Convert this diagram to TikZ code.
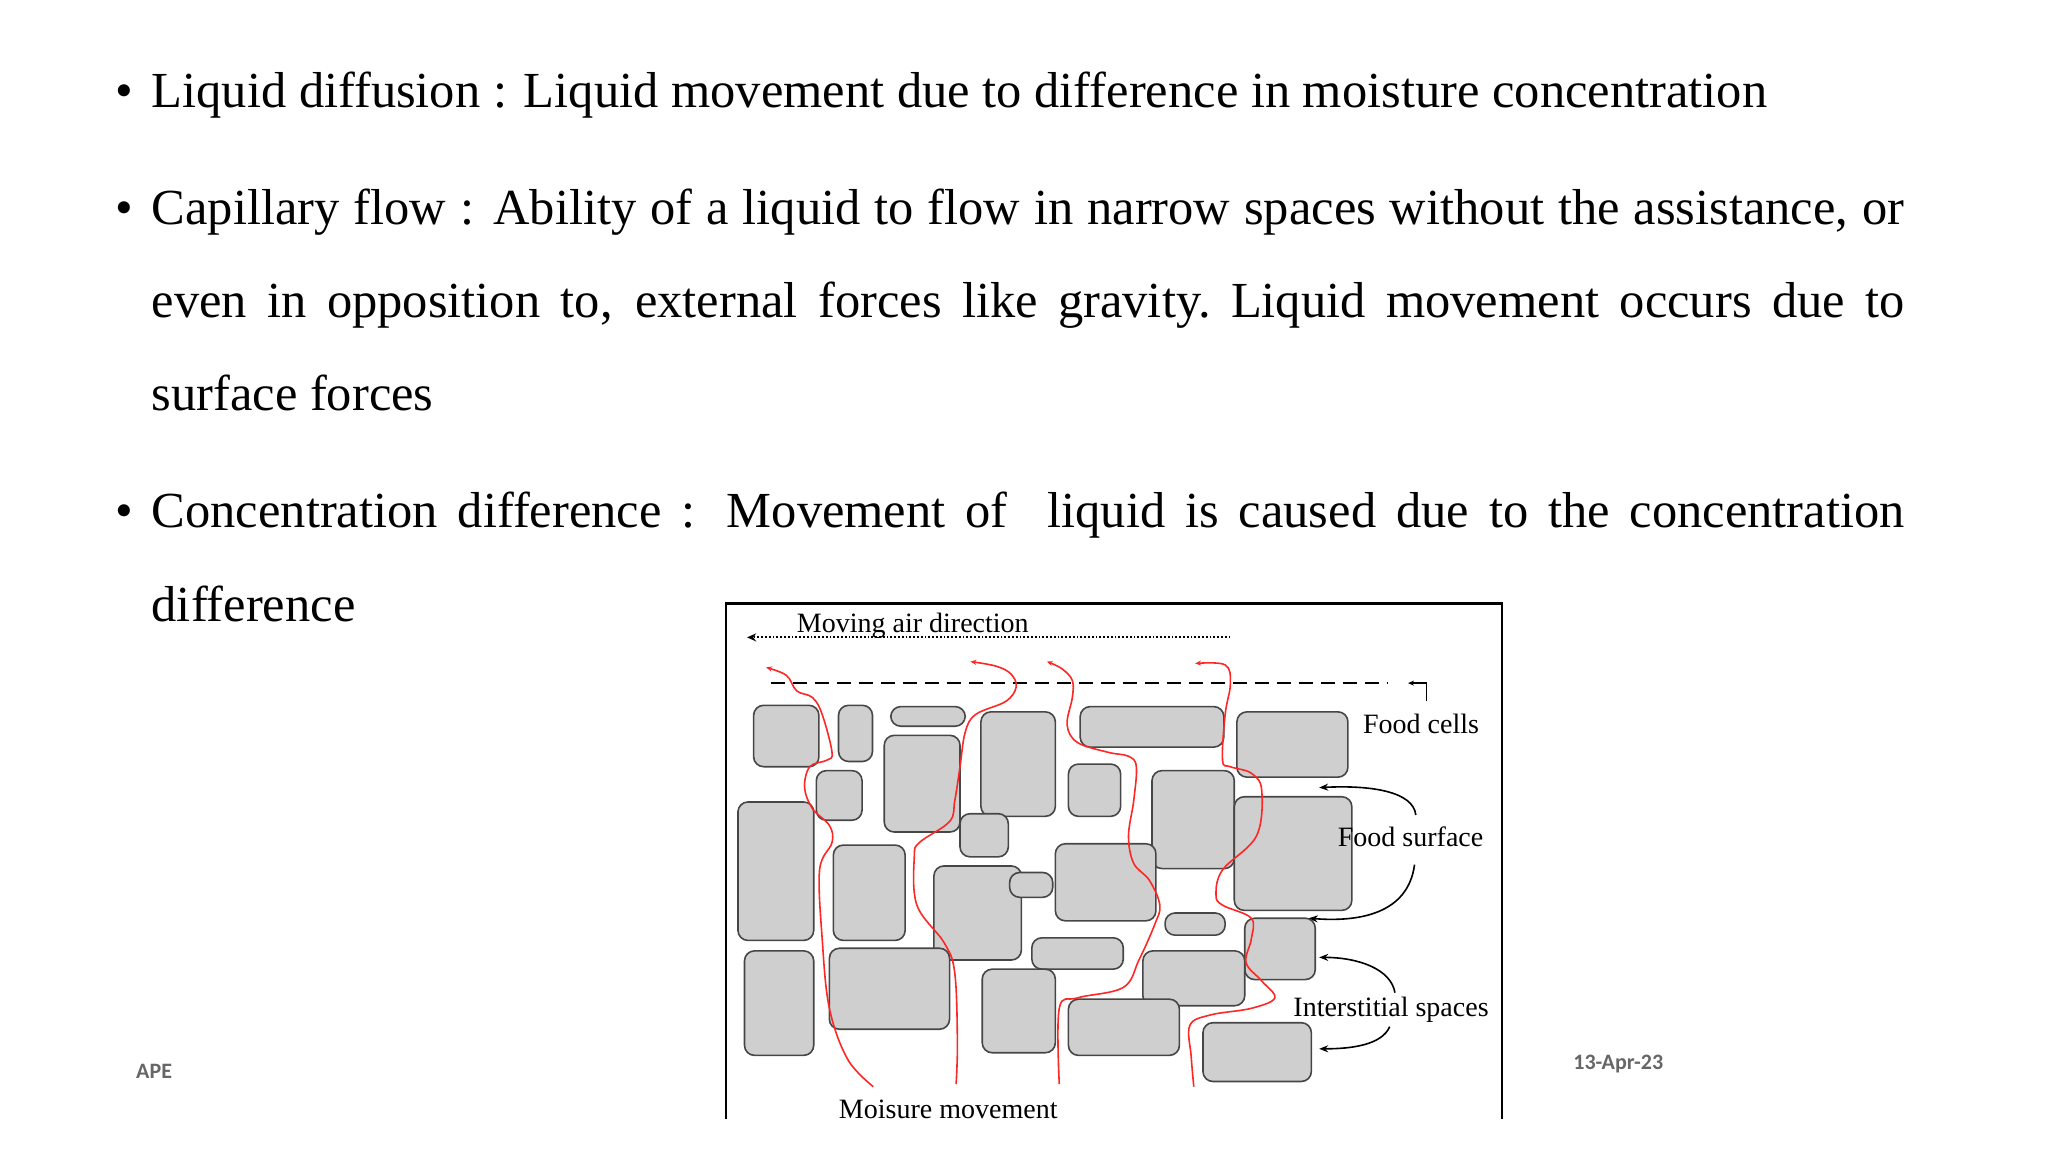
\documentclass[tikz,border=0pt]{standalone}
\usepackage{fontspec}
\setmainfont{Liberation Serif}
\newfontfamily\footfont{Carlito}
\usetikzlibrary{arrows.meta}
\newcommand\cellblob[4]{\draw[cellst] (#1,#2) rectangle (#3,#4);}
\begin{document}
\begin{tikzpicture}[x=1.306pt,y=-1.306pt,
  cellst/.style={fill=gray!38,draw=gray!55!black,line width=1.6pt,rounded corners=10pt},
  moist/.style={draw=red!85!white,line width=1.6pt,-{Stealth[length=6pt,width=5pt]}},
  lbl/.style={inner sep=0pt,font=\fontsize{28}{32}\selectfont},
  txt/.style={anchor=base west,inner sep=0pt,font=\fontsize{50.5}{60}\selectfont},
  blk/.style={line width=1.6pt,-{Stealth[length=9pt,width=7pt]}}]
\useasboundingbox (0,0) rectangle (1568,882);
% bullets
\foreach \yy/\nm in {82/b1,172/b2,404/b3}{\node[txt] (\nm) at (88,\yy) {•};}
\node[txt] (l1) at (116,82) {Liquid diffusion : Liquid movement due to difference in moisture concentration};
\node[txt] (l2) at (116,172) {\makebox[1342\dimexpr1.306pt\relax][s]{Capillary flow : Ability of a liquid to flow in narrow spaces without the assistance, or}};
\node[txt] (l3) at (116,243) {\makebox[1342\dimexpr1.306pt\relax][s]{even in opposition to, external forces like gravity.\ Liquid movement occurs due to}};
\node[txt] (l4) at (116,314) {surface forces};
\node[txt] (l5) at (116,404) {\makebox[1342\dimexpr1.306pt\relax][s]{Concentration difference : Movement of \ liquid is caused due to the concentration}};
\node[txt] (l6) at (116,476) {difference};
% footer
\node[inner sep=0pt,text=gray!80!black,font=\footfont\bfseries\fontsize{22}{26}\selectfont] (ape) at (118,820) {APE};
\node[inner sep=0pt,text=gray!80!black,font=\footfont\bfseries\fontsize{22}{26}\selectfont] (date) at (1239,815) {13-Apr-23};
% frame
\draw[line width=2.4pt] (556,857) -- (556,462) -- (1150,462) -- (1150,857);
% cells
\cellblob{577}{540}{627}{587}
\cellblob{642}{540}{668}{583}
\cellblob{682}{541}{739}{556}
\cellblob{677}{563}{735}{637}
\cellblob{751}{545}{808}{625}
\cellblob{827}{541}{937}{572}
\cellblob{947}{545}{1032}{595}
\cellblob{625}{590}{660}{628}
\cellblob{818}{585}{858}{625}
\cellblob{882}{590}{945}{665}
\cellblob{945}{610}{1035}{697}
\cellblob{565}{614}{623}{720}
\cellblob{638}{647}{693}{720}
\cellblob{735}{623}{772}{656}
\cellblob{715}{663}{782}{735}
\cellblob{773}{668}{806}{687}
\cellblob{808}{646}{885}{705}
\cellblob{892}{699}{938}{716}
\cellblob{953}{703}{1007}{750}
\cellblob{570}{728}{623}{808}
\cellblob{635}{726}{727}{788}
\cellblob{790}{718}{860}{742}
\cellblob{875}{728}{953}{770}
\cellblob{752}{742}{808}{806}
\cellblob{818}{765}{903}{808}
\cellblob{921}{783}{1004}{828}
% air
\coordinate (airR) at (942,488);
\coordinate (airL) at (572,488);
\draw[line width=1.8pt,dotted,-{Stealth[length=9pt,width=8pt]}] (airR) -- (airL);
\node[lbl,anchor=base west] (air) at (610,484) {Moving air direction};
% dashed surface line
\coordinate (dA) at (590,523);
\coordinate (dB) at (1062,523);
\draw[line width=2.2pt,dash pattern=on 14pt off 8pt] (dA) -- (dB);
\coordinate (hk1) at (1092,537);
\coordinate (hk2) at (1078,523);
\draw[line width=1.4pt,-{Stealth[length=6pt,width=5pt]}] (hk1) -- (1092,523) -- (hk2);
% moisture curves (drawn from bottom to top)
\draw[moist] plot[smooth,tension=0.6] coordinates {(668.6,832) (649,811) (635,772) (629.5,719) (627.5,666) (637,645) (635,632) (622,619) (616,603) (620,587) (633,582) (637,576) (629.5,547) (622,534) (610,529) (602,517) (586.5,511)};
\draw[moist] plot[smooth,tension=0.6] coordinates {(732,830) (733,798) (731,745) (723,722) (702,693) (700,656) (704,645) (727,629) (731,613) (735,587) (739,560.5) (747,547) (770,537) (778,526) (774,516) (762.5,510) (743,506.5)};
\draw[moist] plot[smooth,tension=0.6] coordinates {(811,830) (811,772) (825,764) (860,756) (872,735) (884,708) (888,693) (880,674) (868,661) (864,640) (868,613) (870,587) (864,579) (848.5,576) (825,568.5) (817,555) (821,534) (821,521) (813,512) (801.5,506.5)};
\draw[moist] plot[smooth,tension=0.6] coordinates {(914,832) (912,809) (911,785) (927,777) (958,772) (976,764) (966,751) (954,737) (958,719) (958,703) (936,693) (931,685) (936,666) (962,640) (966,605) (958,592) (942,587) (936,582) (938,547) (942,523.6) (938,509) (915,508)};
% labels
\node[lbl] (fc) at (1088,554) {Food cells};
\node[lbl] (fs) at (1080,641) {Food surface};
\node[lbl] (is) at (1065,773) {Interstitial spaces};
\node[lbl] (mm) at (726,849) {Moisure movement};
\coordinate (fsT) at (1010,603);
\coordinate (fsB) at (1002,703);
\coordinate (isT) at (1010,733);
\coordinate (isB) at (1010,803);
\coordinate (fsS1) at (1084,624);
\coordinate (fsS2) at (1083,662);
\coordinate (isS1) at (1068,760);
\coordinate (isS2) at (1064,786);
\draw[blk] (fsS1) .. controls (1082,606) and (1050,601) .. (fsT);
\draw[blk] (fsS2) .. controls (1078,700) and (1040,706) .. (fsB);
\draw[blk] (isS1) .. controls (1065,742) and (1040,733) .. (isT);
\draw[blk] (isS2) .. controls (1058,800) and (1035,803) .. (isB);
\end{tikzpicture}
\end{document}
